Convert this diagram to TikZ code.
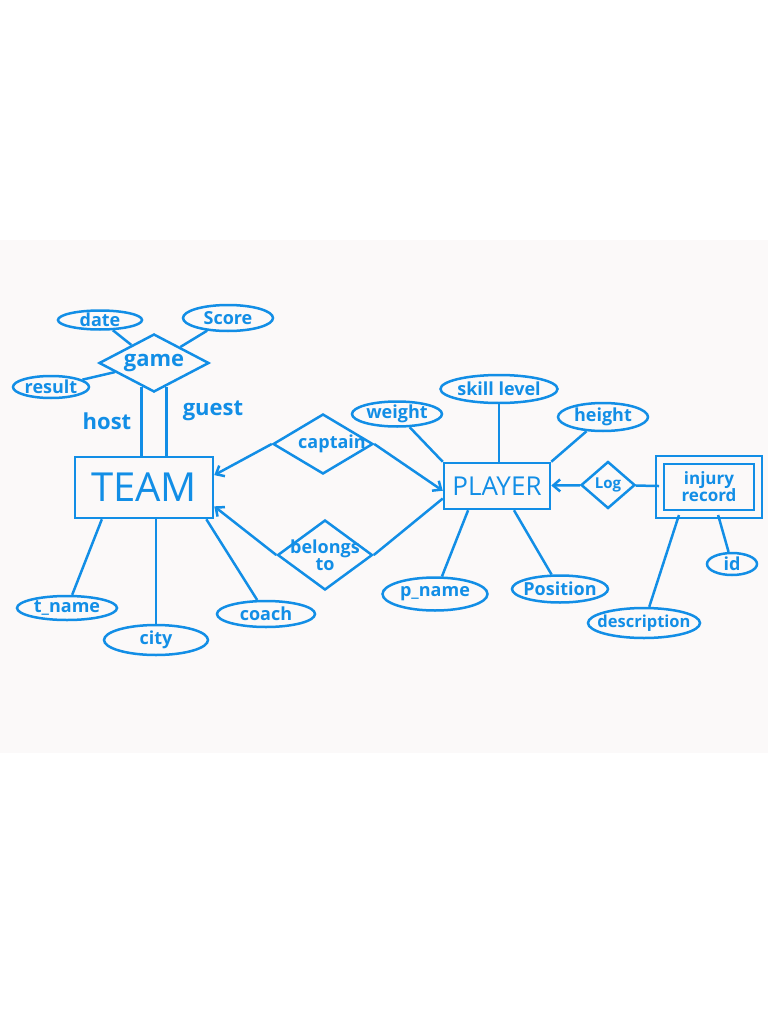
\documentclass[tikz,border=0pt]{standalone}
\usepackage{fontspec}
\setmainfont{Open Sans}
\usetikzlibrary{arrows.meta,shapes.geometric}
\definecolor{ink}{RGB}{18,142,230}
\definecolor{paper}{RGB}{251,249,249}

\begin{document}
\begin{tikzpicture}[
  x=1pt,
  y=-1pt,
  >={Straight Barb[length=7pt,width=12pt]},
  entity/.style={rectangle, draw=ink, line width=2.5pt, text=ink, inner sep=0pt},
  weak/.style={entity, line width=2pt, double=paper, double distance=5.5pt, align=center, font=\bfseries\fontsize{17}{17}\selectfont},
  attr/.style={ellipse, draw=ink, line width=2.5pt, text=ink, inner xsep=-14pt, inner ysep=-3pt, font=\bfseries\fontsize{18}{18}\selectfont},
  rel/.style={diamond, draw=ink, line width=2.5pt, inner sep=0pt},
  reltext/.style={text=ink, align=center, font=\bfseries\fontsize{18}{17}\selectfont},
  link/.style={draw=ink, line width=2.5pt},
  arrowlink/.style={link, ->},
  role/.style={text=ink, font=\bfseries\fontsize{22}{22}\selectfont},
]

\useasboundingbox (0,0) rectangle (768,1024);
\fill[paper] (0,240) rectangle (768,753);

% game and its attributes
\node[rel, minimum width=110pt, minimum height=58pt, label={[reltext, font=\bfseries\fontsize{22}{22}\selectfont]center:game}] (game) at (154,363) {};
\node[attr, minimum width=84pt, minimum height=19pt] (date) at (100,320) {date};
\node[attr, minimum width=90pt, minimum height=26pt] (score) at (228,318) {Score};
\node[attr, minimum width=76pt, minimum height=22pt] (result) at (51,387) {result};

% team
\node[entity, minimum width=138pt, minimum height=61pt, font=\fontsize{40}{40}\selectfont] (team) at (144,487.5) {TEAM};
\node[attr, minimum width=100pt, minimum height=24pt] (tname) at (67,608) {t\_name};
\node[attr, minimum width=104pt, minimum height=30pt] (city) at (156,640) {city};
\node[attr, minimum width=98pt, minimum height=26pt] (coach) at (266,614) {coach};

\node[role] (host) at (107,421) {host};
\node[role] (guest) at (213,411) {guest};

% relationships between team and player
\node[rel, minimum width=100pt, minimum height=60pt, label={[reltext, xshift=9pt]center:captain}] (captain) at (323,444) {};
\node[rel, minimum width=95pt, minimum height=70pt, label={[reltext]center:belongs\\to}] (belongs) at (325,555) {};

% player
\node[entity, minimum width=106pt, minimum height=46pt, font=\fontsize{26}{26}\selectfont] (player) at (497,486) {PLAYER};
\node[attr, minimum width=117pt, minimum height=28pt] (skill) at (499,389) {skill level};
\node[attr, minimum width=90pt, minimum height=25pt] (weight) at (397,414) {weight};
\node[attr, minimum width=90pt, minimum height=28pt] (height) at (603,417) {height};
\node[attr, minimum width=105pt, minimum height=33pt] (pname) at (435,594) {p\_name};
\node[attr, minimum width=96pt, minimum height=27pt] (position) at (560,589) {Position};

% injury record
\node[rel, minimum width=54pt, minimum height=47pt, label={[reltext, font=\bfseries\fontsize{15}{15}\selectfont]center:Log}] (log) at (608,485) {};
\node[weak, minimum width=98pt, minimum height=54pt] (injury) at (709,487) {injury\\record};
\node[attr, minimum width=50pt, minimum height=22pt] (id) at (732,564) {id};
\node[attr, minimum width=112pt, minimum height=30pt, font=\bfseries\fontsize{16.5}{17}\selectfont] (descr) at (644,623) {description};

% connectors
\draw[link] (date) -- (game);
\draw[link] (score) -- (game);
\draw[link] (result) -- (game);
\draw[link] (game.242) -- (game.242 |- team.north);
\draw[link] (game.298) -- (game.298 |- team.north);

\draw[link] (team.217) -- (tname);
\draw[link] (team.south -| city) -- (city);
\draw[link] (team.-27) -- (coach);

\draw[arrowlink] (captain.west) -- (team.10);
\draw[arrowlink] (captain.east) -- (player.185);
\draw[arrowlink] (belongs.west) -- (team.-15);
\draw[link] (belongs.east) -- (player.193);

\draw[link] (skill) -- (skill |- player.north);
\draw[link] (weight) -- (player.north west);
\draw[link] (height) -- (player.north east);
\draw[link] (player.220) -- (pname);
\draw[link] (player.-55) -- (position);

\draw[arrowlink] (log) -- (player);
\draw[link] (log) -- (injury);
\draw[link] (injury.-72) -- (id);
\draw[link] (injury.223) -- (descr);

\end{tikzpicture}
\end{document}
